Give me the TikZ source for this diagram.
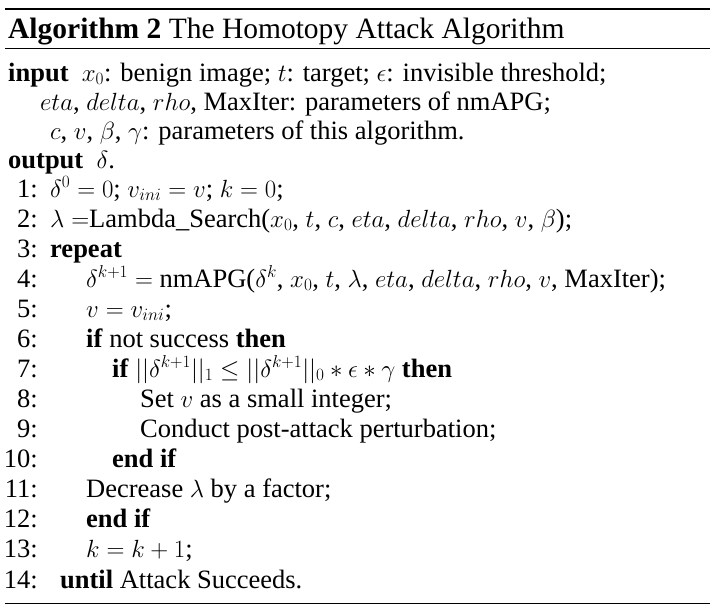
\documentclass[tikz,border=0pt]{standalone}
\usepackage{fontspec}
\setmainfont{Liberation Serif}
\begin{document}
\begin{tikzpicture}[x=1pt,y=-1pt,
  t/.style={anchor=base west,inner sep=0pt,font=\fontsize{26.5}{30}\selectfont},
  n/.style={anchor=base east,inner sep=0pt,font=\fontsize{26.5}{30}\selectfont}]
\useasboundingbox (0,0) rectangle (715,614);
\draw[line width=1.6pt] (5,9) -- (710,9);
\node[t,font=\fontsize{29.5}{33}\selectfont] (title) at (8,38) {\textbf{Algorithm 2} The Homotopy Attack Algorithm};
\draw[line width=0.9pt] (5,48) -- (710,48);
\node[t] (in) at (8,81) {\textbf{input}\enspace $x_0$: benign image; $t$: target; $\epsilon$: invisible threshold;};
\node[t] (in2) at (40,110) {$eta$, $delta$, $rho$, MaxIter: parameters of nmAPG;};
\node[t] (in3) at (50,139) {$c$, $v$, $\beta$, $\gamma$: parameters of this algorithm.};
\node[t] (out) at (8,168) {\textbf{output}\enspace $\delta$.};
\foreach \k/\y/\x/\s in {
 1/197/50/{$\delta^0=0$; $v_{ini}=v$; $k=0$;},
 2/227/50/{$\lambda=$Lambda\_Search($x_0$, $t$, $c$, $eta$, $delta$, $rho$, $v$, $\beta$);},
 3/257/50/{\textbf{repeat}},
 4/287/86/{$\delta^{k+1}=$ nmAPG($\delta^k$, $x_0$, $t$, $\lambda$, $eta$, $delta$, $rho$, $v$, MaxIter);},
 5/317/86/{$v=v_{ini}$;},
 6/347/86/{\textbf{if} not success \textbf{then}},
 7/377/112/{\textbf{if} $||\delta^{k+1}||_1\leq||\delta^{k+1}||_0*\epsilon*\gamma$ \textbf{then}},
 8/407/140/{Set $v$ as a small integer;},
 9/437/140/{Conduct post-attack perturbation;},
 10/467/112/{\textbf{end if}},
 11/497/86/{Decrease $\lambda$ by a factor;},
 12/527/86/{\textbf{end if}},
 13/557/86/{$k=k+1$;},
 14/588/60/{\textbf{until} Attack Succeeds.}}
 {\node[n] (n\k) at (38,\y) {\k:};
  \node[t] (l\k) at (\x,\y) {\s};}
\draw[line width=0.9pt] (5,603) -- (710,603);
\end{tikzpicture}
\end{document}
